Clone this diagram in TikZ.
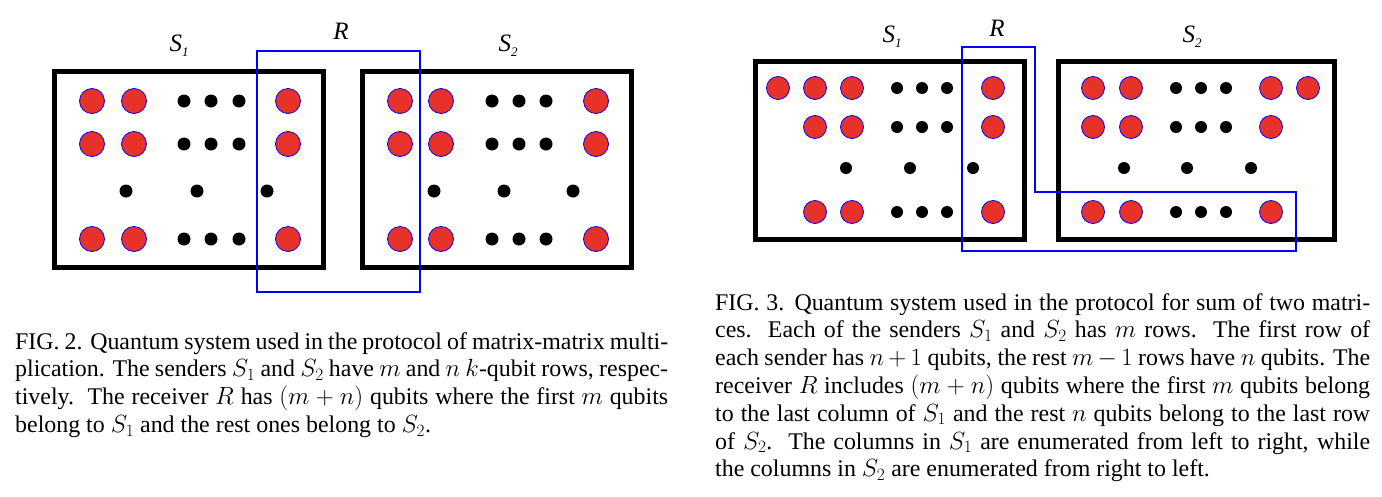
\documentclass[tikz,border=0pt]{standalone}
\usepackage{fontspec}
\setmainfont{Liberation Serif}
\newcommand{\subsm}[1]{\raisebox{-0.45ex}{\fontsize{13}{14}\selectfont #1}}
\begin{document}
\begin{tikzpicture}[x=1pt,y=-1pt,
  qred/.style={circle,fill={rgb,255:red,230;green,50;blue,40},draw=blue,line width=0.8pt,inner sep=0pt,minimum size=#1},
  qred/.default=25pt,
  qdot/.style={circle,fill=black,inner sep=0pt,minimum size=#1},
  qdot/.default=13pt,
  box/.style={draw=black,line width=5pt},
  rbox/.style={draw=blue,line width=2pt},
  lab/.style={font=\fontsize{25}{28}\selectfont\itshape,inner sep=0pt},
  captxt/.style={anchor=north west,inner sep=0pt,align=justify,font=\fontsize{23.9}{27.8}\selectfont}]
\useasboundingbox (0,0) rectangle (1382,496);
% ---------- Fig 2
\node[box,minimum width=269pt,minimum height=196pt,inner sep=0pt] (s1a) at (188.5,169) {};
\node[box,minimum width=269pt,minimum height=196pt,inner sep=0pt] (s2a) at (496.5,169) {};
\node[rbox,minimum width=163pt,minimum height=241pt,inner sep=0pt] (ra) at (338.5,171.5) {};
\node[lab] (ls1a) at (179,46) {S\subsm{1}};
\node[lab] (lra) at (341,31) {R};
\node[lab] (ls2a) at (508,46) {S\subsm{2}};
\foreach \y/\r in {101/1,144/2,239/4}{
  \foreach \x/\c in {92/a,134/b,288/c,400/d,441/e,596/f} \node[qred] (fa\r\c) at (\x,\y) {};
  \foreach \x/\c in {184/a,211/b,239/c,492/d,519/e,546/f} \node[qdot] (ga\r\c) at (\x,\y) {};
}
\foreach \x/\c in {126/a,197/b,267/c,434/d,504/e,573/f} \node[qdot] (ha\c) at (\x,191) {};
% ---------- Fig 3
\node[box,minimum width=269pt,minimum height=178pt,inner sep=0pt] (s1b) at (889.5,150) {};
\node[box,minimum width=276pt,minimum height=178pt,inner sep=0pt] (s2b) at (1196,150) {};
\draw[rbox] (962,47) -- (1035,47) -- (1035,192) -- (1296,192) -- (1296,251) -- (962,251) -- cycle;
\node[lab] (ls1b) at (892,37) {S\subsm{1}};
\node[lab] (lrb) at (997,28) {R};
\node[lab] (ls2b) at (1192,37) {S\subsm{2}};
\foreach \x/\c in {778/a,815/b,852/c,993/d,1093/e,1131/f,1271/g,1308/h} \node[qred=23pt] (fb1\c) at (\x,88) {};
\foreach \y/\r in {127/2,212/4}
  \foreach \x/\c in {815/b,852/c,993/d,1093/e,1131/f,1271/g} \node[qred=23pt] (fb\r\c) at (\x,\y) {};
\foreach \y/\r in {88/1,127/2,212/4}
  \foreach \x/\c in {897/a,922/b,947/c,1176/d,1201/e,1226/f} \node[qdot=12pt] (gb\r\c) at (\x,\y) {};
\foreach \x/\c in {846/a,910/b,973/c,1124/d,1187/e,1251/f} \node[qdot=12pt] (hb\c) at (\x,168) {};
% ---------- captions
\node[captxt,text width=653pt] (c2) at (15,332) {FIG. 2. Quantum system used in the protocol of matrix-matrix multi-\linebreak
plication. The senders $S_1$ and $S_2$ have $m$ and $n$ $k$-qubit rows, respec-\linebreak
tively.\ \ The receiver $R$ has $(m+n)$ qubits where the first $m$ qubits\linebreak
belong to $S_1$ and the rest ones belong to $S_2$.};
\node[captxt,text width=655pt] (c3) at (715,293) {FIG. 3. Quantum system used in the protocol for sum of two matri-\linebreak
ces.\ \ Each of the senders $S_1$ and $S_2$ has $m$ rows.\ \ The first row of\linebreak
each sender has $n+1$ qubits, the rest $m-1$ rows have $n$ qubits. The\linebreak
receiver $R$ includes $(m+n)$ qubits where the first $m$ qubits belong\linebreak
to the last column of $S_1$ and the rest $n$ qubits belong to the last row\linebreak
of $S_2$.\ \ The columns in $S_1$ are enumerated from left to right, while\linebreak
the columns in $S_2$ are enumerated from right to left.};
\end{tikzpicture}
\end{document}
